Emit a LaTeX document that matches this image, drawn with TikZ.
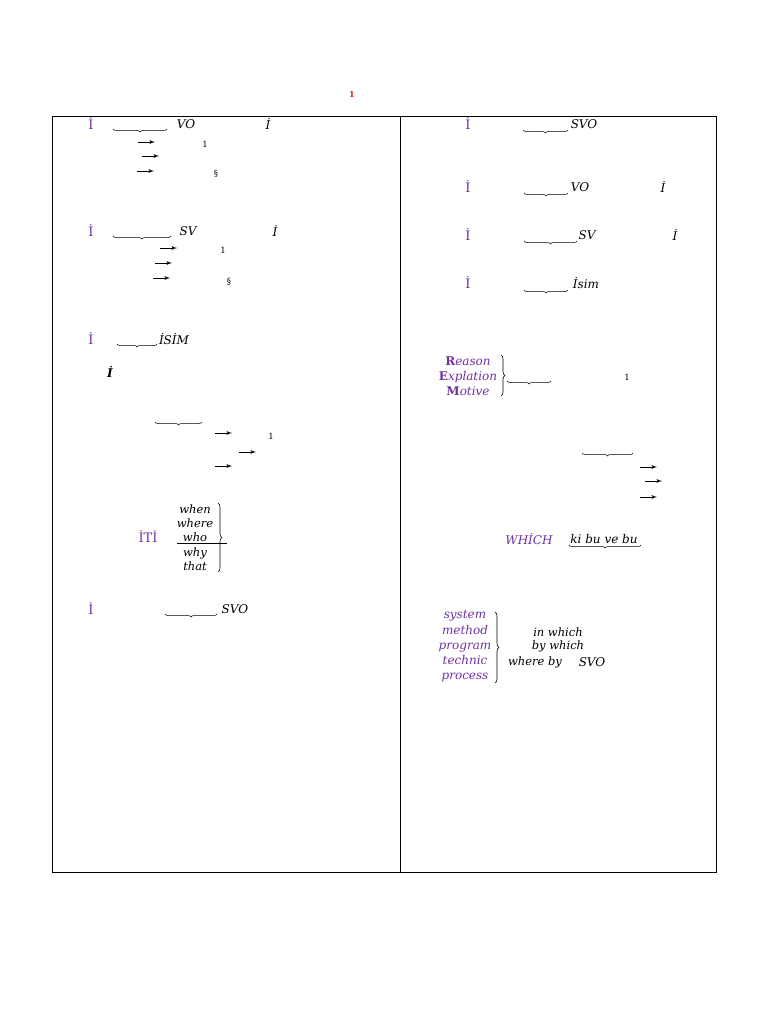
\documentclass[tikz,border=0pt]{standalone}
\usepackage{fontspec}
\setmainfont{DejaVu Serif}
\usepackage{tikz}
\usetikzlibrary{arrows,positioning,decorations.pathreplacing}
\definecolor{lila}{RGB}{112,48,160}
\definecolor{numred}{RGB}{230,20,20}

\begin{document}
\begin{tikzpicture}[x=1pt,y=-1pt,>=latex',every node/.append style={align=center,inner sep=0pt},
  word/.style={font=\fontsize{12}{15}\selectfont\itshape},
  lbl/.style={font=\fontsize{13}{15}\selectfont,text=lila},
  tiny/.style={font=\fontsize{8.5}{9}\selectfont},
  ubr/.style={decorate,decoration={brace,mirror,amplitude=3pt},line width=.5pt},
  rbr/.style={decorate,decoration={brace,amplitude=4pt},line width=.6pt},
  arr/.style={->,line width=.9pt}]
    \useasboundingbox (0,0) rectangle (768,1024);
    \node[font=\fontsize{8}{8}\selectfont\bfseries,text=numred] (pg) at (352,95) {1};
    \draw[line width=.8pt] (52,116) coordinate (tl) rectangle (716,872) coordinate (br);
    \coordinate (mtop) at (400,116);
    \coordinate (mbot) at (400,872);
    \draw[line width=.8pt] (mtop) -- (mbot);

    % left column
    \node[lbl] (L1) at (91,124) {İ};
    \node[word] (L1a) at (186,124) {VO};
    \node[word] (L1b) at (268,124) {İ};
    \node[lbl] (L2) at (91,231) {İ};
    \node[word] (L2a) at (188,231) {SV};
    \node[word] (L2b) at (275,231) {İ};
    \node[lbl] (L3) at (91,339) {İ};
    \node[word] (L3a) at (174,339) {İSİM};
    \node[word,font=\fontsize{12}{15}\selectfont\bfseries\itshape] (L3b) at (110,372) {İ};
    \node[tiny] (n1) at (205,144) {1};
    \node[tiny] (n2) at (216,174) {§};
    \node[tiny] (n3) at (223,250) {1};
    \node[tiny] (n4) at (229,282) {§};
    \node[tiny] (n5) at (271,436) {1};

    \node[lbl] (iti) at (148,537) {İTİ};
    \node[word,font=\fontsize{11.5}{14.3}\selectfont\itshape] (whs) at (195,537.5) {when\\ where\\ who\\ why\\ that};
    \coordinate (wl) at (177,543);
    \coordinate (wr) at (227,543);
    \draw[line width=.6pt] (wl) -- (wr);
    \coordinate (wb1) at (218,503);
    \coordinate (wb2) at (218,572);
    \draw[rbr] (wb1) -- (wb2);

    \node[lbl] (L4) at (91,609) {İ};
    \node[word] (L4a) at (235,609) {SVO};

    % right column
    \node[lbl] (R1) at (468,124) {İ};
    \node[word] (R1a) at (584,124) {SVO};
    \node[lbl] (R2) at (468,187) {İ};
    \node[word] (R2a) at (580,187) {VO};
    \node[word] (R2b) at (663,187) {İ};
    \node[lbl] (R3) at (468,235) {İ};
    \node[word] (R3a) at (587,235) {SV};
    \node[word] (R3b) at (675,235) {İ};
    \node[lbl] (R4) at (468,283) {İ};
    \node[word] (R4a) at (586,283) {İsim};

    \node[word,text=lila] (rem) at (468,376) {{\upshape\bfseries R}eason\\ {\upshape\bfseries E}xplation\\ {\upshape\bfseries M}otive};
    \coordinate (rb1) at (501,355);
    \coordinate (rb2) at (501,396);
    \draw[rbr] (rb1) -- (rb2);
    \node[tiny] (n6) at (627,377) {1};

    \node[word,text=lila] (which) at (529,539) {WHİCH};
    \node[word] (kibu) at (604,539) {ki bu  ve bu};

    \node[word,text=lila,font=\fontsize{12}{15.25}\selectfont\itshape] (sys) at (465,646.5) {system\\ method\\ program\\ technic\\ process};
    \coordinate (sb1) at (495,612);
    \coordinate (sb2) at (495,683);
    \draw[rbr] (sb1) -- (sb2);
    \node[word,font=\fontsize{11.5}{14}\selectfont\itshape] (inw) at (558,632) {in which};
    \node[word,font=\fontsize{11.5}{14}\selectfont\itshape] (byw) at (558,646) {by which};
    \node[word,font=\fontsize{11.5}{14}\selectfont\itshape] (wby) at (535,662) {where by};
    \node[word] (svo) at (592,662) {SVO};

    % underbraces
    \foreach \a/\b/\y [count=\i] in {113/167/129, 113/171/236, 117/157/344, 155/202/422, 165/217/614,
        523/568/130, 524/568/193, 524/577/241, 524/568/290, 507/551/381, 582/633/453, 569/641/545} {
      \coordinate (u\i a) at (\a,\y);
      \coordinate (u\i b) at (\b,\y);
      \draw[ubr] (u\i a) -- (u\i b);
    }

    % arrows
    \foreach \x/\y [count=\i] in {138/142, 142/156, 137/171, 160/248, 155/263, 153/278,
        215/433, 239/452, 215/466, 640/467, 645/481, 640/497} {
      \coordinate (a\i) at (\x,\y);
      \draw[arr] (a\i) -- ++(17,0);
    }
\end{tikzpicture}
\end{document}
